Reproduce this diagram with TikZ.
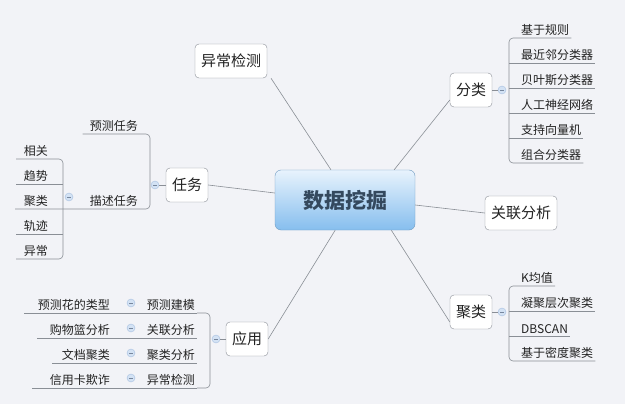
\documentclass[tikz,border=0pt]{standalone}
\usepackage{fontspec}
\setmainfont{Noto Sans CJK SC}
\usepackage{xcolor}
\usetikzlibrary{positioning,calc,shapes}
\definecolor{bgc}{HTML}{F2F3F7}
\definecolor{linec}{HTML}{8A8F96}
\definecolor{txtc}{HTML}{222222}
\definecolor{topc}{HTML}{E8F3FD}
\definecolor{botc}{HTML}{86BEEE}
\definecolor{rootc}{HTML}{6F9AC0}
\definecolor{roott}{HTML}{34495E}
\definecolor{foldc}{HTML}{D3E2F4}
\definecolor{folde}{HTML}{A8C0E0}
\tikzset{
  topic/.style={draw=linec, fill=white, rounded corners=4pt, font=\fontsize{15}{15}\selectfont, text=txtc, inner xsep=6pt, minimum height=34pt},
  root/.style={draw=rootc, top color=topc, bottom color=botc, rounded corners=6pt, minimum width=140pt, minimum height=60pt, font=\fontsize{21}{21}\selectfont\bfseries, text=roott},
  leaf/.style={font=\fontsize{12}{12}\selectfont, text=txtc, inner sep=2pt, anchor=south west},
  rleaf/.style={leaf, anchor=south east},
  fold/.style={circle, draw=folde, fill=foldc, minimum size=8pt, inner sep=0pt, path picture={\draw[folde!70!black] ($(path picture bounding box.west)+(2pt,0)$) -- ($(path picture bounding box.east)-(2pt,0)$);}},
  conn/.style={draw=linec, line width=0.6pt}
}
\begin{document}
\begin{tikzpicture}[x=1pt,y=-1pt]
  \fill[bgc] (0,0) rectangle (625,404);
  \useasboundingbox (0,0) rectangle (625,404);
  % main topics
  \node[root] (dm) at (345,200) {数据挖掘};
  \node[topic] (yc) at (231,61) {异常检测};
  \node[topic] (fl) at (471,90) {分类};
  \node[topic] (gl) at (521,213) {关联分析};
  \node[topic] (jl) at (471,312) {聚类};
  \node[topic] (rw) at (187,185) {任务};
  \node[topic] (yy) at (247,339) {应用};
  \draw[conn] (yc.south) ++(40,0) -- ($(dm.north west)!0.4!(dm.north east)$);
  \draw[conn] (fl.west) ++(0,10) -- ($(dm.north west)!0.85!(dm.north east)$);
  \draw[conn] (gl.west) -- ($(dm.east)+(0,5)$);
  \draw[conn] (jl.west) ++(0,10) -- ($(dm.south west)!0.83!(dm.south east)$);
  \draw[conn] (rw.east) -- ($(dm.west)+(0,-7)$);
  \draw[conn] (yy.east) -- ($(dm.south west)!0.43!(dm.south east)$);
  % 分类
  \node[fold] (ffl) at (502,90) {};
  \draw[conn] (fl.east) -- (ffl);
  \foreach \t [count=\i] in {基于规则,最近邻分类器,贝叶斯分类器,人工神经网络,支持向量机,组合分类器}
    \node[leaf] (fl\i) at (519,{13+25*\i}) {\t};
  \draw[conn,rounded corners=4pt] (fl1.south east) -- (509,38) -- (509,163) -- (fl6.south east);
  \foreach \i in {2,...,5} \draw[conn] (509,{13+25*\i}) -- (fl\i.south east);
  % 聚类
  \node[fold] (fjl) at (502,312) {};
  \draw[conn] (jl.east) -- (fjl);
  \foreach \t [count=\i] in {K均值,凝聚层次聚类,DBSCAN,基于密度聚类}
    \node[leaf] (jl\i) at (519,{261+25*\i}) {\t};
  \draw[conn,rounded corners=4pt] (jl1.south east) -- (509,286) -- (509,361) -- (jl4.south east);
  \foreach \i in {2,3} \draw[conn] (509,{261+25*\i}) -- (jl\i.south east);
  % 任务
  \node[fold] (frw) at (155,185) {};
  \draw[conn] (rw.west) -- (frw);
  \node[rleaf] (yr) at (140,134) {预测任务};
  \node[rleaf] (ms) at (140,209) {描述任务};
  \draw[conn,rounded corners=4pt] ($(yr.south west)-(5,0)$) -- (150,134) -- (150,209) -- (15,209);
  \node[fold] (fms) at (69,197) {};
  \foreach \t [count=\i] in {相关,趋势,聚类,轨迹,异常}
    \node[rleaf] (ms\i) at (50,{134+25*\i}) {\t};
  \draw[conn,rounded corners=4pt] (16,159) -- (63,159) -- (63,259) -- (16,259);
  \foreach \i in {2,4} \draw[conn] (16,{134+25*\i}) -- (63,{134+25*\i});
  % 应用
  \node[fold] (fyy) at (216,339) {};
  \draw[conn] (yy.west) -- (fyy);
  \foreach \a/\b/\l [count=\i] in {预测建模/预测花的类型/24,关联分析/购物篮分析/37,聚类分析/文档聚类/52,异常检测/信用卡欺诈/32} {
    \node[rleaf] (yy\i) at (197,{288+25*\i}) {\a};
    \node[rleaf] (yl\i) at (112,{288+25*\i}) {\b};
    \node[fold] (fyy\i) at (131,{278+25*\i}) {};
    \draw[conn] (\l,{288+25*\i}) -- (yy\i.south east);
  }
  \draw[conn,rounded corners=4pt] (yy1.south east) -- (210,313) -- (210,388) -- (yy4.south east);
\end{tikzpicture}
\end{document}
